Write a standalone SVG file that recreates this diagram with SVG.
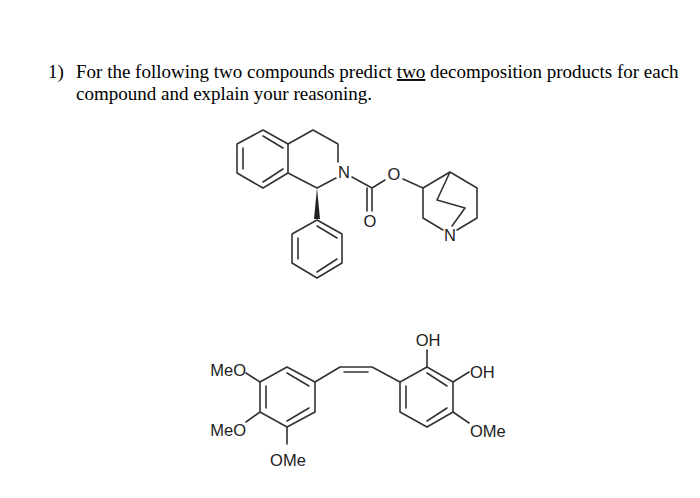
<svg xmlns="http://www.w3.org/2000/svg" width="700" height="498" viewBox="0 0 700 498">
<style>
.b{stroke:#333;stroke-width:1.6;fill:none;stroke-linecap:round;stroke-linejoin:round}
.t{font-family:"Liberation Serif",serif;font-size:19px;fill:#000}
.a{font-family:"Liberation Sans",Arial,sans-serif;font-size:16.5px;fill:#222}
</style>
<rect width="700" height="498" fill="#fff"/>
<text class="t" x="48" y="78">1)</text>
<text class="t" x="76" y="78">For the following two compounds predict <tspan text-decoration="underline">two</tspan> decomposition products for each</text>
<text class="t" x="76" y="100">compound and explain your reasoning.</text>
<g id="compound1">
<path class="b" d="M263,130 L288,144 L288,173 L263,188 L237,173 L237,144 Z M243,148 L243,169 M263,136 L283,148 M263,182 L283,169"/>
<path class="b" d="M288,144 L313,130 L338,144 L338,162 M336,178 L317,188 L288,173"/>
<polygon points="317,188 314,219 320,219" fill="#222"/>
<path class="b" d="M317,220 L342,234 L342,263 L317,278 L292,263 L292,234 Z M298,238 L298,259 M317,272 L337,259 M317,226 L337,238"/>
<text class="a" x="344" y="178" text-anchor="middle">N</text>
<path class="b" d="M352,177 L372,188 L385,180 M372,188 L372,211 M367,188 L367,211"/>
<text class="a" x="370" y="227" text-anchor="middle">O</text>
<text class="a" x="394" y="180" text-anchor="middle">O</text>
<path class="b" d="M403,179 L423,188 L450,172 L477,188 L477,218 L457,230 M423,188 L423,218 L443,230 M450,172 L437,200 L465,208 L452,226"/>
<text class="a" x="450" y="241" text-anchor="middle">N</text>
</g>
<g id="compound2">
<path class="b" d="M287,367 L315,382 L315,412 L287,427 L260,412 L260,382 Z M266,386 L266,408 M287,373 L309,386 M287,421 L309,408"/>
<path class="b" d="M260,382 L246,373 M260,412 L246,422 M287,427 L287,444"/>
<text class="a" x="246" y="376" text-anchor="end">MeO</text>
<text class="a" x="246" y="436" text-anchor="end">MeO</text>
<text class="a" x="288" y="466" text-anchor="middle">OMe</text>
<path class="b" d="M315,382 L340,367 L372,367 L400,382 M344,372 L368,372"/>
<path class="b" d="M400,382 L427,367 L453,382 L453,412 L427,427 L400,412 Z M406,386 L406,408 M427,373 L447,386 M427,421 L447,408"/>
<path class="b" d="M427,367 L427,350 M453,382 L469,372 M453,412 L469,423"/>
<text class="a" x="428" y="346" text-anchor="middle">OH</text>
<text class="a" x="470" y="378">OH</text>
<text class="a" x="470" y="437">OMe</text>
</g>
</svg>
